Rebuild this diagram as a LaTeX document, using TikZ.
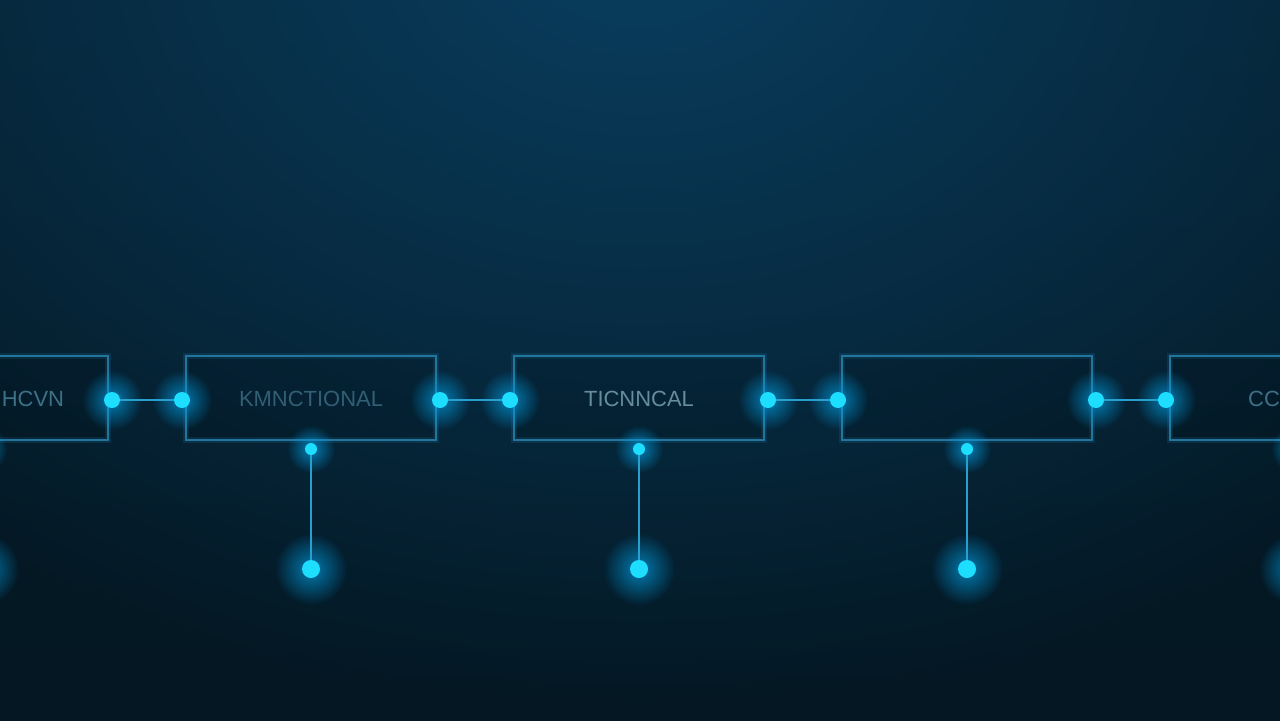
\documentclass[tikz,border=0pt]{standalone}
\usepackage{fontspec}
\setmainfont{Liberation Sans}
\usetikzlibrary{fadings}

\definecolor{bgtop}{RGB}{9,62,95}
\definecolor{bgmid}{RGB}{5,28,42}
\definecolor{bgbot}{RGB}{4,23,34}
\definecolor{framecol}{RGB}{34,118,158}
\definecolor{wirecol}{RGB}{40,160,205}
\definecolor{portcol}{RGB}{30,222,255}
\definecolor{glowcol}{RGB}{0,165,235}
\definecolor{labelcol}{RGB}{62,112,134}

\tikzfading[name=softfade, inner color=transparent!0, outer color=transparent!100]
\tikzfading[name=glowfade, inner color=transparent!30, outer color=transparent!100]

\tikzset{
  stage/.style={draw=framecol, line width=1.1pt, fill=black, fill opacity=0.12,
    text opacity=1, minimum width=5cm, minimum height=1.68cm,
    preaction={draw=framecol, line width=3.5pt, draw opacity=0.2}},
  stagetext/.style={text=labelcol, font=\fontsize{12.5}{15}\selectfont},
  port/.style={circle, fill=portcol, inner sep=0pt, minimum size=0.32cm},
  smallport/.style={port, minimum size=0.24cm},
  bigport/.style={port, minimum size=0.36cm},
  wire/.style={draw=wirecol, line width=1.1pt},
  glow/.style={fill=glowcol, path fading=glowfade}
}

\begin{document}
\begin{tikzpicture}[x=0.02cm, y=-0.02cm]
  \useasboundingbox (0,0) rectangle (1280,720);
  \clip (0,0) rectangle (1280,720);

  % Hintergrund
  \shade[top color=bgmid, bottom color=bgbot] (0,0) rectangle (1280,720);
  \fill[bgtop, path fading=softfade] (640,-60) ellipse (1050 and 780);

  % Stufen
  \node[stage] (s1) at (-17,398) {};
  \node[stage] (s2) at (311,398) {};
  \node[stage] (s3) at (639,398) {};
  \node[stage] (s4) at (967,398) {};
  \node[stage] (s5) at (1295,398) {};

  % Beschriftungen
  \node[stagetext] (t1) at (33,399) {HCVN};
  \node[stagetext, text=labelcol!80!bgmid] (t2) at (311,399) {KMNCTIONAL};
  \node[stagetext, text=labelcol!80!white] (t3) at (639,399) {TICNNCAL};
  \node[stagetext, anchor=west] (t5) at (1242,399) {CC};

  % Leuchten
  \foreach \c in {-17, 311, 639, 967, 1295} {
    \fill[glow] (\c-129,400) circle (30);
    \fill[glow] (\c+129,400) circle (30);
    \fill[glow] (\c,449) circle (24);
    \fill[glow] (\c,569) circle (36);
  }

  % Anschluesse
  \foreach \i/\c in {1/-17, 2/311, 3/639, 4/967, 5/1295} {
    \node[port] (l\i) at (\c-129,400) {};
    \node[port] (r\i) at (\c+129,400) {};
    \node[smallport] (u\i) at (\c,449) {};
    \node[bigport] (d\i) at (\c,569) {};
  }

  % Leitungen
  \foreach \a/\b in {1/2, 2/3, 3/4, 4/5}
    \draw[wire] (r\a) -- (l\b);
  \foreach \i in {1,...,5}
    \draw[wire] (u\i) -- (d\i);
\end{tikzpicture}
\end{document}
